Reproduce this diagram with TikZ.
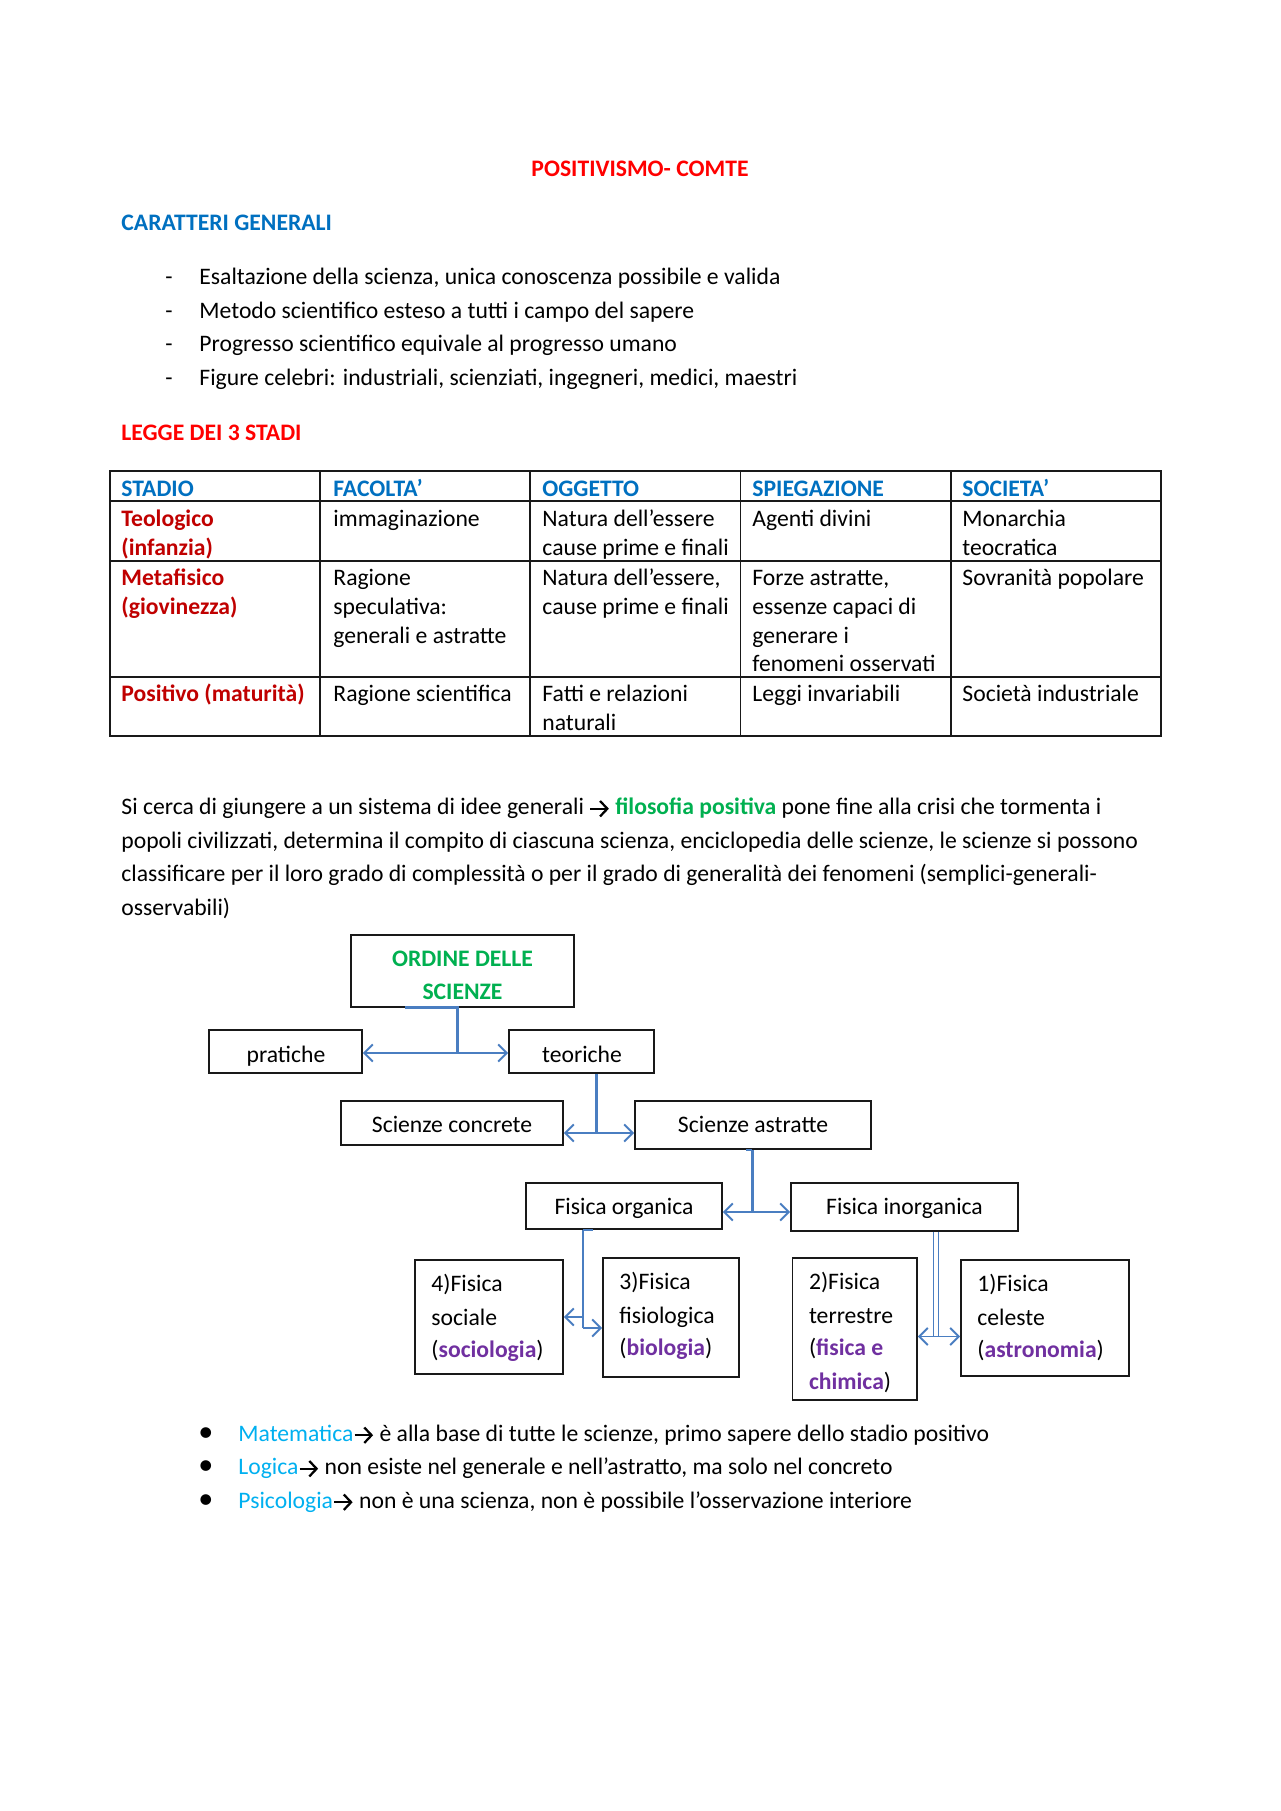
\documentclass[tikz,border=0pt]{standalone}
\usepackage{fontspec}
\setmainfont{Carlito}
\usetikzlibrary{arrows.meta,fit}
\definecolor{tred}{RGB}{255,0,0}
\definecolor{dred}{RGB}{192,0,0}
\definecolor{hblue}{RGB}{0,112,192}
\definecolor{lblue}{RGB}{0,176,240}
\definecolor{sgreen}{RGB}{0,176,80}
\definecolor{purp}{RGB}{112,48,160}
\definecolor{linec}{RGB}{74,126,193}
\definecolor{boxc}{RGB}{25,25,25}
\newcommand\nsz{\fontsize{11pt}{13.4pt}\selectfont}
\newcommand\arr{\tikz[baseline=0pt]\draw[line width=1.05pt, -{Straight Barb[length=3.4pt,width=7.2pt,line width=1.05pt]}] (0.6pt,2.9pt) -- (9.2pt,2.9pt);}
\newcommand\pu[1]{{\color{purp}\bfseries #1}}
\newcommand\bigbul{{\fontsize{14pt}{14pt}\selectfont\textbullet}}
\tikzset{
  tx/.style={anchor=base west, inner sep=0pt, font=\nsz, yshift=-0.9pt},
  tc/.style={anchor=base, inner sep=0pt, font=\nsz, yshift=-0.9pt},
  hb/.style={tx, text=hblue, font=\nsz\bfseries},
  rd/.style={tx, text=dred, font=\nsz\bfseries},
  box/.style={draw=boxc, line width=0.75pt, inner sep=0pt},
  tabline/.style={draw=boxc, line width=0.6pt},
  conn/.style={draw=linec, line width=0.9pt},
  connv/.style={draw=linec, line width=1.4pt},
  tipboth/.style={{Straight Barb[length=4pt,width=8pt]}-{Straight Barb[length=4pt,width=8pt]}},
  tipone/.style={-{Straight Barb[length=4pt,width=8pt]}}
}
\begin{document}
\begin{tikzpicture}[x=0.46506pt,y=-0.46506pt]
\useasboundingbox[fill=white] (0,0) rectangle (1280,1811);

% title and headings
\node (title) [tc, font=\nsz\bfseries, text=tred] at (640,174.5) {POSITIVISMO- COMTE};
\node (car) [hb] at (121,229) {CARATTERI GENERALI};
\node (d1) [tx] at (165,283) {-};
\node (b1) [tx] at (199,283) {Esaltazione della scienza, unica conoscenza possibile e valida};
\node (d2) [tx] at (165,317) {-};
\node (b2) [tx] at (199,317) {Metodo scientifico esteso a tutti i campo del sapere};
\node (d3) [tx] at (165,350) {-};
\node (b3) [tx] at (199,350) {Progresso scientifico equivale al progresso umano};
\node (d4) [tx] at (165,384) {-};
\node (b4) [tx] at (199,384) {Figure celebri: industriali, scienziati, ingegneri, medici, maestri};
\node (legge) [tx, text=tred, font=\nsz\bfseries] at (121,439) {LEGGE DEI 3 STADI};

% table
\draw[tabline] (110,471) rectangle (1161,736);
\draw[tabline] (110,501) -- (1161,501);
\draw[tabline] (110,561) -- (1161,561);
\draw[tabline] (110,677) -- (1161,677);
\foreach \cx in {320,530,740.5,951} \draw[tabline] (\cx,471) -- (\cx,736);

\node (h1) [hb] at (121,494.5) {STADIO};
\node (h2) [hb] at (333,494.5) {FACOLTA’};
\node (h3) [hb] at (542,494.5) {OGGETTO};
\node (h4) [hb] at (752,494.5) {SPIEGAZIONE};
\node (h5) [hb] at (962,494.5) {SOCIETA’};

\node (r1a) [rd] at (121,524.5) {Teologico};
\node (r1b) [rd] at (121,553.5) {(infanzia)};
\node (r1c) [tx] at (333,524.5) {immaginazione};
\node (r1d) [tx] at (542,524.5) {Natura dell’essere};
\node (r1e) [tx] at (542,553.5) {cause prime e finali};
\node (r1f) [tx] at (752,524.5) {Agenti divini};
\node (r1g) [tx] at (962,524.5) {Monarchia};
\node (r1h) [tx] at (962,553.5) {teocratica};

\node (r2a) [rd] at (121,583.5) {Metafisico};
\node (r2b) [rd] at (121,612.3) {(giovinezza)};
\node (r2c) [tx] at (333,583.5) {Ragione};
\node (r2d) [tx] at (333,612.3) {speculativa:};
\node (r2e) [tx] at (333,641.2) {generali e astratte};
\node (r2f) [tx] at (542,583.5) {Natura dell’essere,};
\node (r2g) [tx] at (542,612.3) {cause prime e finali};
\node (r2h) [tx] at (752,583.5) {Forze astratte,};
\node (r2i) [tx] at (752,612.3) {essenze capaci di};
\node (r2j) [tx] at (752,641.2) {generare i};
\node (r2k) [tx] at (752,670) {fenomeni osservati};
\node (r2l) [tx] at (962,583.5) {Sovranità popolare};

\node (r3a) [rd] at (121,700) {Positivo (maturità)};
\node (r3b) [tx] at (333,700) {Ragione scientifica};
\node (r3c) [tx] at (542,700) {Fatti e relazioni};
\node (r3d) [tx] at (542,729) {naturali};
\node (r3e) [tx] at (752,700) {Leggi invariabili};
\node (r3f) [tx] at (962,700) {Società industriale};

% paragraph
\node (p1) [tx] at (121,813) {Si cerca di giungere a un sistema di idee generali \arr\ {\color{sgreen}\bfseries filosofia positiva} pone fine alla crisi che tormenta i};
\node (p2) [tx] at (121,847) {popoli civilizzati, determina il compito di ciascuna scienza, enciclopedia delle scienze, le scienze si possono};
\node (p3) [tx] at (121,880) {classificare per il loro grado di complessità o per il grado di generalità dei fenomeni (semplici-generali-};
\node (p4) [tx] at (121,914) {osservabili)};

% diagram boxes
\node (ord) [box, fit={(351,935) (574,1007)}] {};
\node (prat) [box, fit={(209,1030) (362,1073)}] {};
\node (teor) [box, fit={(509,1030) (654,1073)}] {};
\node (sc) [box, fit={(341,1101) (563,1145)}] {};
\node (sa) [box, fit={(635,1101) (871,1149)}] {};
\node (fo) [box, fit={(526,1183) (722,1229)}] {};
\node (fi) [box, fit={(791,1183) (1018,1231)}] {};
\node (fs) [box, fit={(415,1260) (563,1374)}] {};
\node (ff) [box, fit={(603,1258) (739,1377)}] {};
\node (ft) [box, fit={(792.5,1258) (917,1400)}] {};
\node (fc) [box, fit={(961,1260) (1129,1376)}] {};

\node (ordT1) [tc, text=sgreen, font=\nsz\bfseries] at (462.5,965) {ORDINE DELLE};
\node (ordT2) [tc, text=sgreen, font=\nsz\bfseries] at (462.5,998) {SCIENZE};
\node (pratT) [tc] at (286,1061) {pratiche};
\node (teorT) [tc] at (582,1061) {teoriche};
\node (scT) [tc] at (452,1131) {Scienze concrete};
\node (saT) [tc] at (753,1131) {Scienze astratte};
\node (foT) [tc] at (624,1213) {Fisica organica};
\node (fiT) [tc] at (904.5,1213) {Fisica inorganica};

\node (fs1) [tx] at (431,1290) {4)Fisica};
\node (fs2) [tx] at (431,1324) {sociale};
\node (fs3) [tx] at (431,1356) {(\pu{sociologia})};
\node (ff1) [tx] at (619,1288) {3)Fisica};
\node (ff2) [tx] at (619,1321.5) {fisiologica};
\node (ff3) [tx] at (619,1354) {(\pu{biologia})};
\node (ft1) [tx] at (808.6,1288) {2)Fisica};
\node (ft2) [tx] at (808.6,1321.5) {terrestre};
\node (ft3) [tx] at (808.6,1354) {(\pu{fisica e}};
\node (ft4) [tx] at (808.6,1387.5) {\pu{chimica})};
\node (fc1) [tx] at (977,1290) {1)Fisica};
\node (fc2) [tx] at (977,1324) {celeste};
\node (fc3) [tx] at (977,1356) {(\pu{astronomia})};

% connectors
\coordinate (o1) at (405,1007);
\coordinate (j1) at (457,1053);
\draw[connv] (o1) -- (o1 -| j1) -- (j1);
\draw[conn, tipboth] (prat.east |- j1) -- (teor.west |- j1);

\coordinate (j2) at (596,1133);
\draw[connv] (teor.south -| j2) -- (j2);
\draw[conn, tipboth] (sc.east |- j2) -- (sa.west |- j2);

\coordinate (j3) at (752,1212);
\draw[connv] (sa.south -| j3) -- (j3);
\draw[conn] (sa.south -| j3) -- ++(-6,0);
\draw[conn, tipboth] (fo.east |- j3) -- (fi.west |- j3);

\coordinate (j4) at (583,1328);
\coordinate (j4a) at (583,1317);
\draw[conn] (fo.south -| j4) -- ++(10,0);
\draw[conn] (fo.south -| j4) -- (j4);
\draw[conn, tipone] (j4a) -- (fs.east |- j4a);
\draw[conn, tipone] (j4) -- (ff.west |- j4);

\coordinate (j5) at (936,1336.5);
\draw[draw=linec, line width=0.6pt, double, double distance=1.5pt] (fi.south -| j5) -- (j5);
\draw[conn, tipone] (j5) -- (ft.east |- j5);
\draw[conn, tipone] (j5) -- (fc.west |- j5);

% final bullets
\node (e1) [tx] at (198,1439.5) {\bigbul};
\node (m1) [tx] at (238,1439.5) {{\color{lblue}Matematica}\arr\ è alla base di tutte le scienze, primo sapere dello stadio positivo};
\node (e2) [tx] at (198,1473) {\bigbul};
\node (m2) [tx] at (238,1473) {{\color{lblue}Logica}\arr\ non esiste nel generale e nell’astratto, ma solo nel concreto};
\node (e3) [tx] at (198,1506.5) {\bigbul};
\node (m3) [tx] at (238,1506.5) {{\color{lblue}Psicologia}\arr\ non è una scienza, non è possibile l’osservazione interiore};
\end{tikzpicture}
\end{document}
